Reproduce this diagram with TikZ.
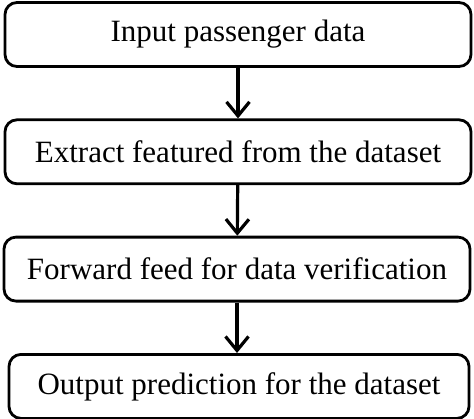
\documentclass[tikz,border=0pt]{standalone}
\usepackage{fontspec}
\setmainfont{Liberation Serif}
\usetikzlibrary{positioning,arrows.meta}

\begin{document}
\begin{tikzpicture}[x=1pt,y=1pt,
    every node/.style={draw,rounded corners=12pt,line width=2.8pt,
      minimum width=466pt,minimum height=64pt,
      font=\fontsize{31}{34}\selectfont},
    node distance=50.5pt,
    flow/.style={-{Straight Barb[length=14pt,width=23pt]},line width=3.2pt}
    ]
    \useasboundingbox (0,0) rectangle (474,-418);

    % the steps
    \node (input) at (238,-34.5) {Input passenger data};
    \node (extract) [below=of input] {Extract featured from the dataset};
    \node (forward) [below=of extract,xshift=-1pt] {Forward feed for data verification};
    \node (output) [below=of forward,xshift=2pt,minimum width=460pt] {Output prediction for the dataset};

    % the arrows
    \draw[flow] (input) -- (extract);
    \draw[flow] (extract) -- (forward);
    \draw[flow] (forward) -- (forward |- output.north);
\end{tikzpicture}
\end{document}
